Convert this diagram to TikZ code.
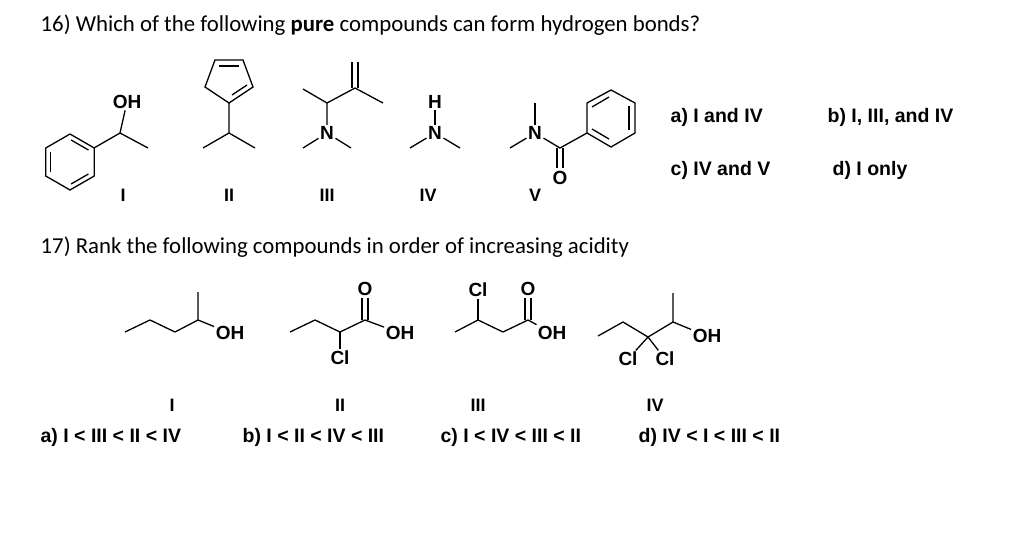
\documentclass[tikz,border=0pt]{standalone}
\usepackage{fontspec}
\usetikzlibrary{calc}
\setmainfont{Carlito}
\newfontfamily\arialb[Scale=1]{Liberation Sans}
\begin{document}
\begin{tikzpicture}[x=1pt,y=-1pt,line width=1.3pt,
  atm/.style={inner sep=1pt,font=\arialb\bfseries\fontsize{19}{19}\selectfont},
  lab/.style={inner sep=0pt,font=\arialb\bfseries\fontsize{18}{18}\selectfont},
  ans/.style={anchor=west,inner sep=0pt,font=\arialb\bfseries\fontsize{19.5}{20}\selectfont},
  ttl/.style={anchor=west,inner sep=0pt,font=\fontsize{22.8}{24}\selectfont}]
\useasboundingbox (0,0) rectangle (1024,546);
\node[ttl] (t16) at (40,25) {16) Which of the following \textbf{pure} compounds can form hydrogen bonds?};
\node[ttl] (t17) at (40,247) {17) Rank the following compounds in order of increasing acidity};
% I
\coordinate (c1) at (70,162);
\draw ($(c1)+(30:28)$) -- ($(c1)+(90:28)$) -- ($(c1)+(150:28)$) -- ($(c1)+(210:28)$) -- ($(c1)+(270:28)$) -- ($(c1)+(330:28)$) -- cycle;
\draw ($(c1)+(153:22)$) -- ($(c1)+(207:22)$);
\draw ($(c1)+(273:22)$) -- ($(c1)+(327:22)$);
\draw ($(c1)+(33:22)$) -- ($(c1)+(87:22)$);
\node[atm] (oh1) at (127,102) {OH};
\draw (94,148) -- (120,133) -- (148,148);
\draw (120,133) -- (oh1);
\node[lab] (l1) at (123,195) {I};
% II
\draw (215,60) -- (243,60) -- (253,87) -- (229,103) -- (205,87) -- cycle;
\draw (219,66) -- (239,66);
\draw (247,85) -- (232,95);
\draw (229,103) -- (229,133) -- (203,148);
\draw (229,133) -- (255,148);
\node[lab] (l2) at (229,195) {II};
% III
\node[atm] (n3) at (327,133) {N};
\draw (n3) -- (327,103) -- (303,89);
\draw (327,103) -- (355,88) -- (383,103);
\draw (352,88) -- (352,62); \draw (358,88) -- (358,62);
\draw (n3) -- (303,148); \draw (n3) -- (351,148);
\node[lab] (l3) at (327,195) {III};
% IV
\node[atm] (n4) at (435,133) {N};
\node[atm] (h4) at (435,102) {H};
\draw (n4) -- (h4);
\draw (n4) -- (410,148); \draw (n4) -- (460,148);
\node[lab] (l4) at (428,195) {IV};
% V
\node[atm] (n5) at (535,133) {N};
\draw (n5) -- (535,103);
\draw (n5) -- (510,148);
\draw (n5) -- (560,148) -- (587,133);
\node[atm] (o5) at (560,178) {O};
\draw (557,148) -- (557,168); \draw (563,148) -- (563,168);
\draw (587,133) -- (587,103) -- (611,90) -- (635,103) -- (635,133) -- (611,147) -- cycle;
\draw (592,107) -- (609,97); \draw (629,106) -- (629,130); \draw (592,129) -- (609,139);
\node[lab] (l5) at (535,195) {V};
\node[ans] (a16) at (670,117) {a) I and IV};
\node[ans] (b16) at (827,117) {b) I, III, and IV};
\node[ans] (c16) at (670,170) {c) IV and V};
\node[ans] (d16) at (832,170) {d) I only};
% 17 I
\node[atm] (oh6) at (230,333) {OH};
\draw (125,332) -- (150,320) -- (175,332) -- (198,320) -- (198,292);
\draw (198,320) -- (oh6);
\node[lab] (m1) at (172,405) {I};
% II
\node[atm] (cl7) at (340,358) {Cl};
\node[atm] (o7) at (365,289) {O};
\node[atm] (oh7) at (400,333) {OH};
\draw (290,332) -- (315,320) -- (340,332) -- (365,320) -- (oh7);
\draw (340,332) -- (cl7);
\draw (362,320) -- (362,298); \draw (368,320) -- (368,298);
\node[lab] (m2) at (340,405) {II};
% III
\node[atm] (cl8) at (478,290) {Cl};
\node[atm] (o8) at (528,289) {O};
\node[atm] (oh8) at (552,333) {OH};
\draw (455,332) -- (478,320) -- (503,332) -- (528,320) -- (oh8);
\draw (478,320) -- (cl8);
\draw (525,320) -- (525,298); \draw (531,320) -- (531,298);
\node[lab] (m3) at (478,405) {III};
% IV
\node[atm] (cl9a) at (628,359) {Cl};
\node[atm] (cl9b) at (665,359) {Cl};
\node[atm] (oh9) at (707,336) {OH};
\draw (598,336) -- (623,322) -- (648,337) -- (673,322) -- (673,293);
\draw (673,322) -- (oh9);
\draw (648,337) -- (cl9a); \draw (648,337) -- (cl9b);
\node[lab] (m4) at (655,405) {IV};
\node[ans] (a17) at (40,437) {a) I < III < II < IV};
\node[ans] (b17) at (242,437) {b) I < II < IV < III};
\node[ans] (c17) at (440,437) {c) I < IV < III < II};
\node[ans] (d17) at (638,437) {d) IV < I < III < II};
\end{tikzpicture}
\end{document}
